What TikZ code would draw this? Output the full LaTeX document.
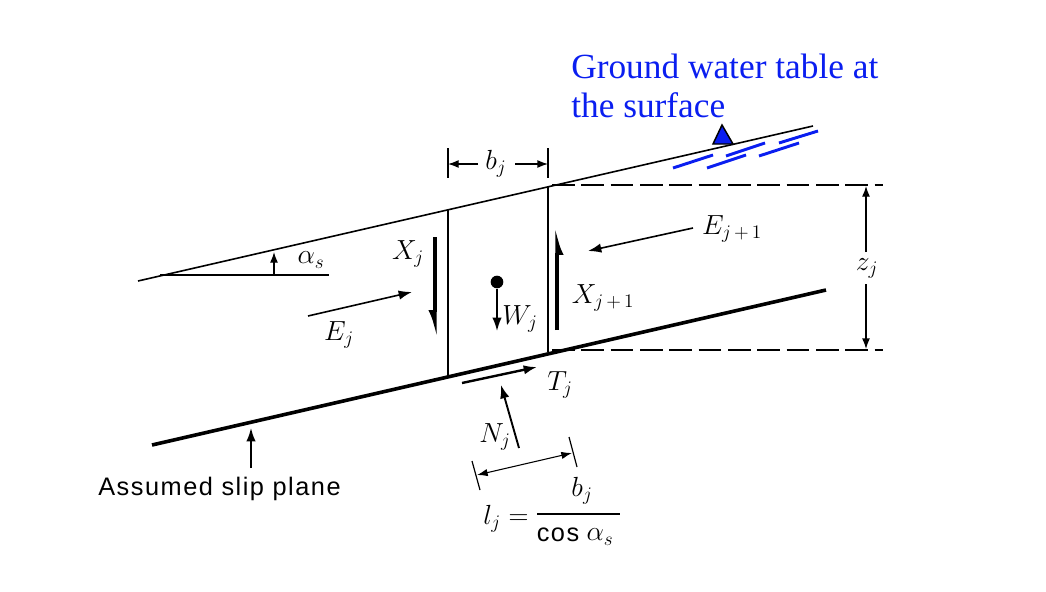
\documentclass[tikz,border=0pt]{standalone}
\usepackage{amsmath}
\usepackage{fontspec}
\usepackage{xcolor}
\usetikzlibrary{arrows.meta}
\setmainfont{Liberation Serif}
\setsansfont{Liberation Sans}
\definecolor{waterblue}{RGB}{10,30,240}

\begin{document}
\begin{tikzpicture}[
    x=0.75pt, y=-0.75pt,
    soil/.style={line width=1.2pt, draw=black},
    slip/.style={line width=2.7pt, draw=black},
    thin line/.style={line width=0.9pt, draw=black},
    force/.style={-{Latex[length=10pt,width=7pt]}, line width=1.2pt},
    small force/.style={-{Latex[length=8pt,width=6pt]}, line width=1pt},
    heavy force/.style={-{Latex[length=15pt,width=10pt,right]}, line width=2.6pt},
    dim/.style={{Latex[length=8pt,width=5.5pt]}-{Latex[length=8pt,width=5.5pt]}, line width=0.8pt},
    symbol/.style={inner sep=0pt, font=\fontsize{20}{24}\selectfont},
    water/.style={line width=2.2pt, draw=waterblue},
    sans label/.style={inner sep=0pt, font=\fontsize{19}{22}\selectfont\sffamily\addfontfeatures{LetterSpace=6}}
  ]
  \useasboundingbox (0,0) rectangle (1046,592);

  % ground and slip plane
  \coordinate (groundL) at (138,281);
  \coordinate (groundR) at (813,126);
  \coordinate (slipL) at (152,445);
  \coordinate (slipR) at (826,290);
  \coordinate (topL) at (448,210);
  \coordinate (topR) at (548,187);
  \coordinate (botL) at (448,377);
  \coordinate (botR) at (548,352);
  \draw[soil] (groundL) -- (groundR);
  \draw[slip] (slipL) -- (slipR);
  \draw[soil] (topL) -- (botL);
  \draw[soil] (topR) -- (botR);

  % slope angle
  \coordinate (horizL) at (160,275);
  \coordinate (horizR) at (329,275);
  \coordinate (angleA) at (274,275);
  \coordinate (angleB) at (274,252);
  \draw[soil] (horizL) -- (horizR);
  \draw[small force] (angleA) -- (angleB);
  \node[symbol] (alphas) at (311,260) {$\alpha_s$};

  % slice width
  \coordinate (tickLa) at (448,148);
  \coordinate (tickLb) at (448,178);
  \coordinate (tickRa) at (548,148);
  \coordinate (tickRb) at (548,178);
  \draw[thin line] (tickLa) -- (tickLb);
  \draw[thin line] (tickRa) -- (tickRb);
  \node[symbol] (bj) at (496,164) {$b_j$};
  \coordinate (bjL) at (448,164);
  \coordinate (bjR) at (548,164);
  \coordinate (bjLs) at (478,164);
  \coordinate (bjRs) at (515,164);
  \draw[small force] (bjLs) -- (bjL);
  \draw[small force] (bjRs) -- (bjR);

  % side forces
  \coordinate (EjA) at (308,316);
  \coordinate (EjB) at (412,292);
  \draw[force] (EjA) -- (EjB);
  \node[symbol] (Ej) at (339,335) {$E_j$};
  \coordinate (XjA) at (435,237);
  \coordinate (XjB) at (435,338);
  \draw[heavy force] (XjA) -- (XjB);
  \node[symbol] (Xj) at (408,254) {$X_j$};
  \coordinate (XnA) at (557,330);
  \coordinate (XnB) at (557,227);
  \draw[heavy force] (XnA) -- (XnB);
  \node[symbol] (Xn) at (603,298) {$X_{j\,+\,1}$};
  \coordinate (EnA) at (693,228);
  \coordinate (EnB) at (588,251);
  \draw[force] (EnA) -- (EnB);
  \node[symbol] (En) at (732,229) {$E_{j\,+\,1}$};

  % weight
  \node[circle, fill=black, inner sep=0pt, minimum size=9.5pt] (dot) at (497,282) {};
  \coordinate (WjB) at (497,331);
  \draw[force] (dot) -- (WjB);
  \node[symbol] (Wj) at (520,319) {$W_j$};

  % base forces
  \coordinate (TjA) at (462,383);
  \coordinate (TjB) at (537,367);
  \draw[force, line width=1.8pt] (TjA) -- (TjB);
  \node[symbol] (Tj) at (560,385) {$T_j$};
  \coordinate (NjA) at (519,448);
  \coordinate (NjB) at (501,385);
  \draw[force, line width=1.4pt] (NjA) -- (NjB);
  \node[symbol] (Nj) at (495,437) {$N_j$};

  % depth
  \coordinate (dashTL) at (552,185);
  \coordinate (dashTR) at (883,185);
  \coordinate (dashBL) at (552,350);
  \coordinate (dashBR) at (883,350);
  \draw[thin line, line width=1.3pt, dash pattern=on 17pt off 5pt] (dashTL) -- (dashTR);
  \draw[thin line, line width=1.3pt, dash pattern=on 17pt off 5pt] (dashBL) -- (dashBR);
  \node[symbol] (zj) at (867,268) {$z_j$};
  \coordinate (zjT) at (866,186);
  \coordinate (zjB) at (866,349);
  \coordinate (zjTs) at (866,252);
  \coordinate (zjBs) at (866,284);
  \draw[small force] (zjTs) -- (zjT);
  \draw[small force] (zjBs) -- (zjB);

  % length along the base
  \coordinate (lLa) at (472,461);
  \coordinate (lLb) at (480,490);
  \coordinate (lRa) at (569,437);
  \coordinate (lRb) at (577,467);
  \coordinate (lL) at (477,475);
  \coordinate (lR) at (572,453);
  \draw[thin line] (lLa) -- (lLb);
  \draw[thin line] (lRa) -- (lRb);
  \draw[dim] (lL) -- (lR);
  \node[symbol] (lj) at (506,519) {$l_j =$};
  \node[symbol] (bjtop) at (582,491) {$b_j$};
  \coordinate (fracL) at (537,514);
  \coordinate (fracR) at (620,514);
  \draw[thin line] (fracL) -- (fracR);
  \node[sans label] (cosa) at (558,535) {cos};
  \node[symbol] (alphab) at (600,537) {$\alpha_s$};

  % slip plane label
  \coordinate (slipA) at (251,468);
  \coordinate (slipB) at (251,428);
  \draw[force] (slipA) -- (slipB);
  \node[sans label] (slipname) at (219.5,489) {Assumed slip plane};

  % water table
  \node[anchor=north west, inner sep=0pt, align=left, text=waterblue,
    font=\fontsize{26.5}{29.2}\selectfont] (wtlabel) at (571,54) {Ground water table at\\the surface};
  \coordinate (triA) at (722,125);
  \coordinate (triB) at (713,144);
  \coordinate (triC) at (733,144);
  \draw[line width=1.1pt, fill=waterblue, line join=miter] (triA) -- (triB) -- (triC) -- cycle;
  \foreach \xa/\ya/\xb/\yb in {673/168/713/155, 707/168/746/155, 726/156/765/143, 759/156/799/143, 779/143/818/131}
    \draw[water] (\xa,\ya) -- (\xb,\yb);
\end{tikzpicture}
\end{document}
